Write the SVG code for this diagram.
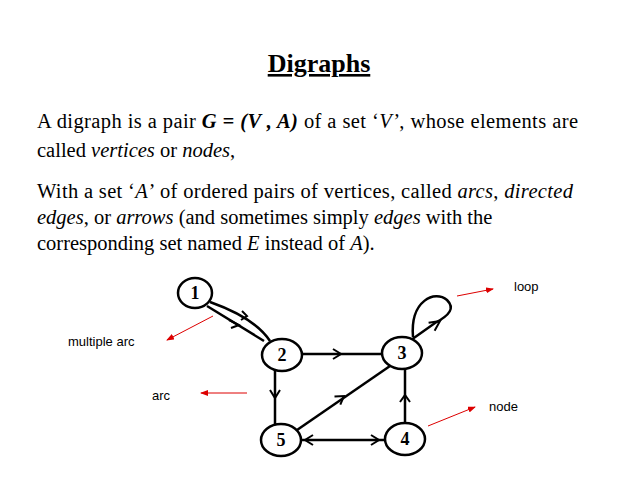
<svg xmlns="http://www.w3.org/2000/svg" width="638" height="479" viewBox="0 0 638 479">
<style>
.t{font-family:"Liberation Serif",serif;font-size:20.5px;fill:#000}
.l{font-family:"Liberation Sans",sans-serif;font-size:13px;fill:#000}
.n ellipse{fill:#fff;stroke:#000;stroke-width:2.5}
.n text{font-family:"Liberation Serif",serif;font-weight:bold;font-size:18px;text-anchor:middle}
.e{stroke:#000;stroke-width:2.5;fill:none}
.h{stroke:#000;stroke-width:2;fill:none}
.r{stroke:#d00;stroke-width:1;fill:none;marker-end:url(#ra)}
</style>
<defs><marker id="ra" markerWidth="8" markerHeight="6" refX="7" refY="3" orient="auto"><path d="M0,0 L8,3 L0,6 Z" fill="#d00"/></marker></defs>
<rect width="638" height="479" fill="#fff"/>
<text x="319" y="72" text-anchor="middle" font-family="Liberation Serif,serif" font-size="26" font-weight="bold" text-decoration="underline">Digraphs</text>
<text class="t" x="37" y="128" textLength="541">A digraph is a pair <tspan font-weight="bold" font-style="italic">G = (V , A)</tspan>  of a set ‘<tspan font-style="italic">V’</tspan>, whose elements are</text>
<text class="t" x="37" y="157">called <tspan font-style="italic">vertices</tspan> or <tspan font-style="italic">nodes</tspan>,</text>
<text class="t" x="37" y="198" textLength="536">With a set ‘<tspan font-style="italic">A’</tspan> of ordered pairs of vertices, called <tspan font-style="italic">arcs</tspan>, <tspan font-style="italic">directed</tspan></text>
<text class="t" x="37" y="224"><tspan font-style="italic">edges</tspan>, or <tspan font-style="italic">arrows</tspan> (and sometimes simply <tspan font-style="italic">edges</tspan> with the</text>
<text class="t" x="37" y="250">corresponding set named <tspan font-style="italic">E</tspan> instead of <tspan font-style="italic">A</tspan>).</text>
<g id="connectors">
<path class="e" d="M210,302 Q255,318 270,341"/>
<polyline class="h" points="242,311 247,316 241,320"/>
<path class="e" d="M207,306 L264,341"/>
<polyline class="h" points="229,320 239,325 231,328"/>
<path class="e" d="M302,354 L382,354"/>
<polyline class="h" points="333,349 341,354 333,359"/>
<path class="e" d="M275,370 L275,424"/>
<polyline class="h" points="270,390 275,398 280,390"/>
<path class="e" d="M297,430 L390,366"/>
<polyline class="h" points="340.3,404.7 344,396 334.5,396.5"/>
<path class="e" d="M302,440 L384,440"/>
<polyline class="h" points="313,435 305,440 313,445"/>
<polyline class="h" points="371,435 379,440 371,445"/>
<path class="e" d="M405,422 L405,370"/>
<polyline class="h" points="400,402 405,395 410,402"/>
<path class="e" d="M413,337 C410,300 435,290 447,300 C455,308 450,315 435,323 L411,340"/>
<polyline class="h" points="434.6,330.8 440,321 428.6,322.8"/>
<line class="r" x1="457" y1="296" x2="493" y2="289"/>
<line class="r" x1="213" y1="316" x2="167" y2="340"/>
<line class="r" x1="247" y1="393" x2="201" y2="393"/>
<line class="r" x1="428" y1="426" x2="475" y2="407"/>
</g>
<g id="n1" class="n"><ellipse cx="195" cy="293" rx="17" ry="15"/><text x="195" y="299">1</text></g>
<g id="n2" class="n"><ellipse cx="282" cy="355" rx="20" ry="16"/><text x="282" y="361">2</text></g>
<g id="n3" class="n"><ellipse cx="402" cy="353" rx="20" ry="16"/><text x="402" y="359">3</text></g>
<g id="n4" class="n"><ellipse cx="405" cy="439" rx="20" ry="16"/><text x="405" y="445">4</text></g>
<g id="n5" class="n"><ellipse cx="281" cy="440" rx="20" ry="16"/><text x="281" y="446">5</text></g>
<text class="l" x="514" y="291">loop</text>
<text class="l" x="68" y="346">multiple arc</text>
<text class="l" x="152" y="400">arc</text>
<text class="l" x="489" y="411">node</text>
</svg>
